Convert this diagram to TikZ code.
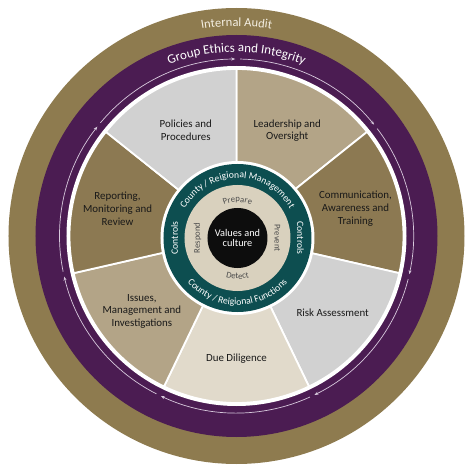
\documentclass[tikz,border=0pt]{standalone}
\usepackage{fontspec}
\setmainfont{Carlito}
\usetikzlibrary{arrows.meta,decorations.text}

\definecolor{auditgold}{HTML}{8E7B4F}
\definecolor{ethicspurple}{HTML}{4B1C52}
\definecolor{paletan}{HTML}{B3A487}
\definecolor{darktan}{HTML}{8C7952}
\definecolor{softgray}{HTML}{D1D1D1}
\definecolor{softbeige}{HTML}{E1DACB}
\definecolor{deepteal}{HTML}{0D4E50}
\definecolor{ringbeige}{HTML}{D9D1BE}
\definecolor{arrowlilac}{HTML}{D8CADD}
\definecolor{auditcream}{HTML}{F4EFE2}

\begin{document}
\begin{tikzpicture}[
			sector/.style = {draw=white, line width=1.8pt},
			sectorlabel/.style = {align=center, text=black!90,
				font=\fontsize{10.9}{12.8}\selectfont},
			curvetext/.style = {decorate, decoration={text along path,
				text align=center, text={#1}}},
			cycle arrow/.style = {arrowlilac, line width=0.7pt,
				-{Stealth[length=4pt,width=3pt]}},
			ringlabel/.style = {text=white, inner sep=0pt,
				font=\fontsize{9.7}{9.7}\selectfont},
			phaselabel/.style = {text=black!70, inner sep=0pt,
				font=\fontsize{8.7}{8.7}\selectfont}
		]
		\useasboundingbox (-236.5pt,-238pt) rectangle (237.5pt,236pt);
		% outer rings
		\fill[auditgold] (0,0) circle[radius=228pt];
		\fill[ethicspurple] (0,0) circle[radius=201pt];
		\fill[white] (0,0) circle[radius=170pt];
		\path[curvetext={|\fontsize{12.5}{12.5}\selectfont\color{auditcream}|Internal Audit}]
			(180:210pt) arc[start angle=180, end angle=0, radius=210pt];
		\path[curvetext={|\fontsize{13}{13}\selectfont\color{white}|Group Ethics and Integrity}]
			(180:184pt) arc[start angle=180, end angle=0, radius=184pt];
		\foreach \k in {0,...,6}
			\draw[cycle arrow] ({90-\k*51.4286-1.2}:177pt)
				arc[start angle={90-\k*51.4286-1.2}, end angle={90-(\k+1)*51.4286+0.4}, radius=177pt];
		% sectors
		\foreach \col [count=\k from 0] in {paletan,darktan,softgray,softbeige,paletan,darktan,softgray}
			\filldraw[sector, fill=\col] (0,0) -- ({90-\k*51.4286}:167pt)
				arc[start angle={90-\k*51.4286}, end angle={90-(\k+1)*51.4286}, radius=167pt] -- cycle;
		\foreach \k/\r/\txt in {0/117/{Leadership and\\Oversight},
				1/122/{Communication,\\Awareness and\\Training},
				2/123/{Risk Assessment},
				3/123/{Due Diligence},
				4/121/{Issues,\\Management and\\Investigations},
				5/122/{Reporting,\\Monitoring and\\Review},
				6/117/{Policies and\\Procedures}}
			\node[sectorlabel] (sector\k) at ({64.2857-\k*51.4286}:\r pt) {\txt};
		% centre
		\begin{scope}[shift={(1pt,-2pt)}]
			\fill[white] (0,0) circle[radius=77pt];
			\fill[deepteal] (0,0) circle[radius=74pt];
			\fill[ringbeige] (0,0) circle[radius=53pt];
			\fill[black!95] (0,0) circle[radius=30pt];
			\path[curvetext={|\fontsize{9.7}{9.7}\selectfont\color{white}|County / Reigional Management}]
				(180:60pt) arc[start angle=180, end angle=0, radius=60pt];
			\path[curvetext={|\fontsize{9.7}{9.7}\selectfont\color{white}|County / Reigional Functions}]
				(180:67pt) arc[start angle=180, end angle=360, radius=67pt];
			\node[ringlabel, rotate=90] (controlsL) at (-63pt,0) {Controls};
			\node[ringlabel, rotate=-90] (controlsR) at (63pt,0) {Controls};
			\path[curvetext={|\fontsize{8.7}{8.7}\selectfont\color{black!70}|Prepare}]
				(150:36pt) arc[start angle=150, end angle=30, radius=36pt];
			\path[curvetext={|\fontsize{8.7}{8.7}\selectfont\color{black!70}|Detect}]
				(210:41pt) arc[start angle=210, end angle=330, radius=41pt];
			\node[phaselabel, rotate=90] (respond) at (-40pt,0) {Respond};
			\node[phaselabel, rotate=-90] (prevent) at (40pt,0) {Prevent};
			\node[text=white, align=center, font=\fontsize{10.3}{9.8}\selectfont] (values) at (0,0) {Values and\\culture};
		\end{scope}
	\end{tikzpicture}
\end{document}
